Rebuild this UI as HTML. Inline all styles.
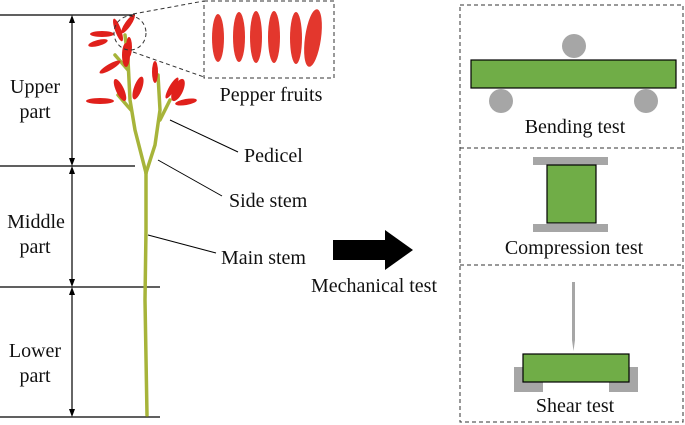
<!DOCTYPE html>
<html><head><style>body{margin:0;background:#fff}svg{display:block}text{font-family:"Liberation Serif",serif;font-size:20px;fill:#111}</style></head><body>
<svg width="685" height="425" viewBox="0 0 685 425">
<g stroke="#000" stroke-width="1.2">
<line x1="0" y1="15" x2="135" y2="15"/><line x1="0" y1="166" x2="135" y2="166"/>
<line x1="0" y1="287" x2="160" y2="287"/><line x1="0" y1="417" x2="160" y2="417"/>
<line x1="72" y1="18" x2="72" y2="163"/><line x1="72" y1="169" x2="72" y2="284"/><line x1="72" y1="290" x2="72" y2="414"/>
</g>
<g fill="#000">
<path d="M72 15l-3 8h6z"/><path d="M72 166l-3-8h6z"/><path d="M72 166l-3 8h6z"/><path d="M72 287l-3-8h6z"/><path d="M72 287l-3 8h6z"/><path d="M72 417l-3-8h6z"/>
</g>
<g text-anchor="middle">
<text x="35" y="93">Upper</text><text x="35" y="118">part</text>
<text x="36" y="228">Middle</text><text x="35" y="253">part</text>
<text x="35" y="357">Lower</text><text x="35" y="382">part</text>
<text x="271" y="101">Pepper fruits</text>
<text x="374" y="292">Mechanical  test</text>
<text x="575" y="133">Bending test</text><text x="574" y="254">Compression  test</text><text x="575" y="412">Shear  test</text>
</g>
<g stroke="#a7b43a" stroke-width="3.5" fill="none" stroke-linecap="round">
<path d="M147 415 L145 300 L146 230 L146 173"/>
<path d="M146 173 L135 130 L130 100 L128 60 L125 35"/>
<path d="M146 173 L155 145 L160 110 L158 75"/>
<path d="M131 110 L118 95"/><path d="M160 120 L170 100"/><path d="M128 70 L115 55"/>
</g>
<g fill="#e0201b">
<ellipse cx="100" cy="101" rx="14" ry="3"/><ellipse cx="120" cy="90" rx="4" ry="12" transform="rotate(-25 120 90)"/>
<ellipse cx="138" cy="88" rx="4" ry="12" transform="rotate(20 138 88)"/>
<ellipse cx="110" cy="67" rx="12" ry="3" transform="rotate(-30 110 67)"/>
<ellipse cx="126" cy="55" rx="4" ry="12"/><ellipse cx="118" cy="30" rx="3" ry="12" transform="rotate(-20 118 30)"/>
<ellipse cx="128" cy="24" rx="3" ry="11" transform="rotate(35 128 24)"/>
<ellipse cx="102" cy="34" rx="12" ry="3"/><ellipse cx="98" cy="43" rx="10" ry="3" transform="rotate(-15 98 43)"/>
<ellipse cx="129" cy="47" rx="3" ry="10"/><ellipse cx="155" cy="72" rx="3" ry="11"/>
<ellipse cx="178" cy="90" rx="5" ry="12" transform="rotate(25 178 90)"/><ellipse cx="186" cy="102" rx="11" ry="3" transform="rotate(-10 186 102)"/>
<ellipse cx="172" cy="88" rx="3" ry="12" transform="rotate(30 172 88)"/>
</g>
<ellipse cx="130" cy="33" rx="16" ry="17" fill="none" stroke="#333" stroke-dasharray="4,3"/>
<g stroke="#333" stroke-dasharray="4,3" fill="none"><line x1="133" y1="14" x2="204" y2="1"/><line x1="133" y1="52" x2="204" y2="77"/>
<rect x="204" y="1" width="130" height="77"/></g>
<g fill="#e3372d">
<ellipse cx="218" cy="38" rx="6" ry="24"/><ellipse cx="239" cy="37" rx="6" ry="25"/><ellipse cx="256" cy="37" rx="6" ry="26"/>
<ellipse cx="274" cy="37" rx="6" ry="26"/><ellipse cx="296" cy="38" rx="6" ry="26"/><ellipse cx="313" cy="38" rx="8" ry="29" transform="rotate(8 313 38)"/>
</g>
<g stroke="#000" stroke-width="1"><line x1="170" y1="120" x2="238" y2="152"/><line x1="158" y1="160" x2="222" y2="196"/><line x1="148" y1="235" x2="216" y2="253"/></g>
<text x="244" y="162">Pedicel</text><text x="229" y="207">Side stem</text><text x="221" y="264">Main stem</text>
<path d="M333 240h52v-10l28 20l-28 20v-10h-52z" fill="#000"/>
<g stroke="#333" stroke-dasharray="4,3" fill="none"><rect x="460" y="5" width="223" height="417"/><line x1="460" y1="148" x2="683" y2="148"/><line x1="460" y1="265" x2="683" y2="265"/></g>
<g fill="#a6a6a6">
<circle cx="574" cy="46" r="12"/><circle cx="501" cy="101" r="12"/><circle cx="646" cy="101" r="12"/>
<rect x="533" y="157" width="75" height="8"/><rect x="533" y="224" width="75" height="8"/>
<rect x="514" y="367" width="29" height="25"/><rect x="609" y="367" width="29" height="25"/>
<path d="M572 282h3v58l-1.5 11l-1.5-11z"/>
</g>
<g fill="#70ad47" stroke="#000" stroke-width="1.2">
<rect x="471" y="60" width="205" height="28"/><rect x="547" y="165" width="49" height="58"/><rect x="523" y="354" width="106" height="28"/>
</g>
</svg>
</body></html>
